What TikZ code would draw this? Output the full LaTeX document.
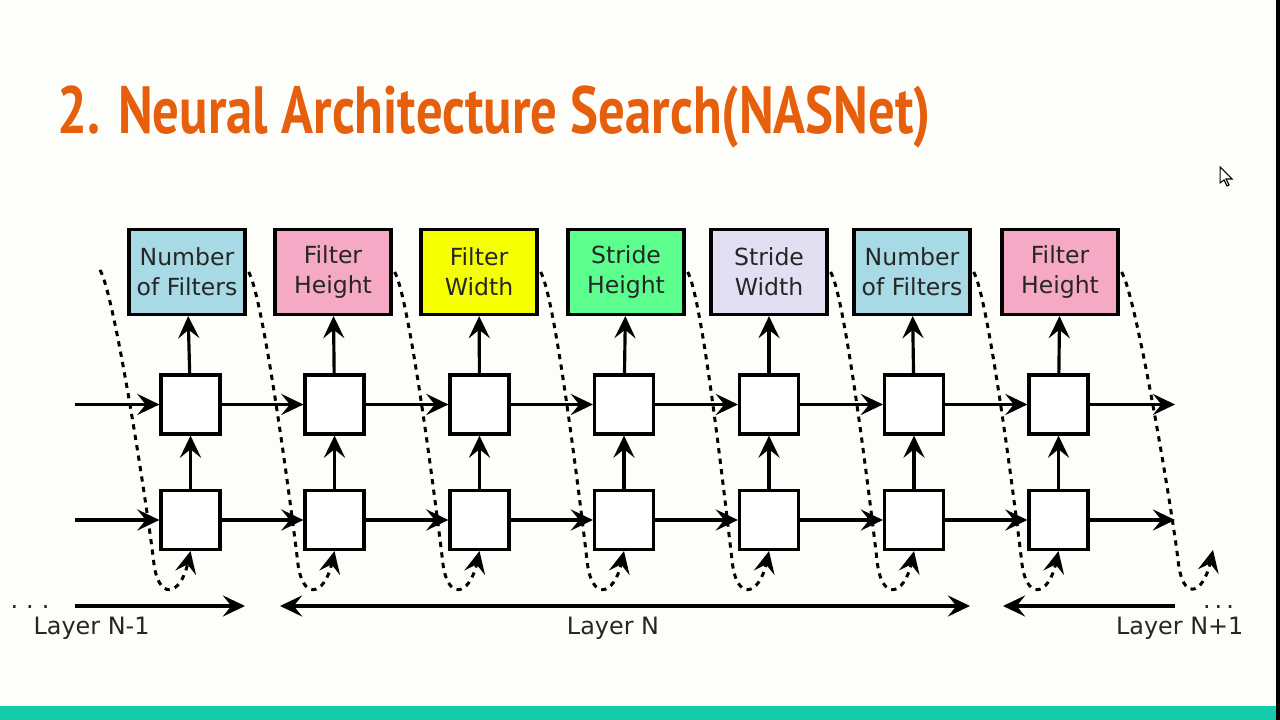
\documentclass[tikz,border=0pt]{standalone}
\usepackage{fontspec}
\setmainfont{DejaVu Sans}
\newfontfamily\titlefont{PT Sans}[FakeStretch=0.79]
\usetikzlibrary{arrows.meta}
\definecolor{pagebg}{HTML}{FDFDFA}
\definecolor{titleorange}{HTML}{E65F0C}
\definecolor{barteal}{HTML}{14CCAA}
\definecolor{boxblue}{HTML}{A7DAE4}
\definecolor{boxpink}{HTML}{F5A9C4}
\definecolor{boxyellow}{HTML}{F5FF00}
\definecolor{boxgreen}{HTML}{5CFF8E}
\definecolor{boxlilac}{HTML}{E3DFF3}

\begin{document}
\begin{tikzpicture}[>={Stealth[length=6.3pt,width=6pt,inset=2.4pt]},line width=0.9pt,
    cell/.style={draw,fill=white,minimum size=0.59cm,inner sep=0pt},
    param/.style={draw,minimum width=1.16cm,minimum height=0.85cm,inner sep=0pt,align=center,
      font=\fontsize{6.7}{8.5}\selectfont,text=black!85},
    flow/.style={->},
    feedback/.style={->,dash pattern=on 1.5pt off 1.5pt,line width=0.85pt},
    lbl/.style={inner sep=0pt,font=\fontsize{6.8}{8}\selectfont,text=black!85}]
      \useasboundingbox (0,0) rectangle (12.8,7.2);
      \fill[pagebg] (0,0) rectangle (12.8,7.2);
      \fill[barteal] (0,0) rectangle (12.8,0.14);
      \fill[black] (12.755,0) rectangle (12.8,7.2);
      \draw[line width=0.3pt,fill=white] (12.20,5.53) -- (12.20,5.37) -- (12.24,5.40) -- (12.27,5.34)
        -- (12.29,5.35) -- (12.26,5.41) -- (12.32,5.41) -- cycle;
      \node[anchor=base west,inner sep=0pt,text=titleorange,font=\titlefont\bfseries\fontsize{19}{22}\selectfont]
        (title) at (0.56,5.86) {2. Neural Architecture Search(NASNet)};
      % parameter boxes
      \node[param,fill=boxblue] (p1) at (1.87,4.48) {Number\\of Filters}; \node[param,fill=boxpink] (p2) at (3.33,4.48) {Filter\\Height};
      \node[param,fill=boxyellow] (p3) at (4.79,4.48) {Filter\\Width}; \node[param,fill=boxgreen] (p4) at (6.26,4.48) {Stride\\Height};
      \node[param,fill=boxlilac] (p5) at (7.69,4.48) {Stride\\Width}; \node[param,fill=boxblue] (p6) at (9.12,4.48) {Number\\of Filters};
      \node[param,fill=boxpink] (p7) at (10.60,4.48) {Filter\\Height};
      % two rows of cells
      \node[cell] (u1) at (1.905,3.155) {}; \node[cell] (l1) at (1.905,2.00) {};
      \node[cell] (u2) at (3.345,3.155) {}; \node[cell] (l2) at (3.345,2.00) {};
      \node[cell] (u3) at (4.795,3.155) {}; \node[cell] (l3) at (4.795,2.00) {};
      \node[cell] (u4) at (6.24,3.155) {}; \node[cell] (l4) at (6.24,2.00) {};
      \node[cell] (u5) at (7.69,3.155) {}; \node[cell] (l5) at (7.69,2.00) {};
      \node[cell] (u6) at (9.14,3.155) {}; \node[cell] (l6) at (9.14,2.00) {};
      \node[cell] (u7) at (10.585,3.155) {}; \node[cell] (l7) at (10.585,2.00) {};
      \coordinate (uin) at (0.75,3.155); \coordinate (uout) at (11.75,3.155);
      \coordinate (lin) at (0.75,2.00); \coordinate (lout) at (11.75,2.00);
      \coordinate (s0) at (1.00,4.50); \coordinate (e8) at (12.13,1.70);
      % row connectors
      \draw[flow] (uin) -- (u1); \draw[flow] (u1) -- (u2); \draw[flow] (u2) -- (u3); \draw[flow] (u3) -- (u4);
      \draw[flow] (u4) -- (u5); \draw[flow] (u5) -- (u6); \draw[flow] (u6) -- (u7); \draw[flow] (u7) -- (uout);
      \draw[flow] (lin) -- (l1); \draw[flow] (l1) -- (l2); \draw[flow] (l2) -- (l3); \draw[flow] (l3) -- (l4);
      \draw[flow] (l4) -- (l5); \draw[flow] (l5) -- (l6); \draw[flow] (l6) -- (l7); \draw[flow] (l7) -- (lout);
      % upward connectors
      \draw[flow] (l1) -- (u1); \draw[flow] (u1) -- (p1); \draw[flow] (l2) -- (u2); \draw[flow] (u2) -- (p2);
      \draw[flow] (l3) -- (u3); \draw[flow] (u3) -- (p3); \draw[flow] (l4) -- (u4); \draw[flow] (u4) -- (p4);
      \draw[flow] (l5) -- (u5); \draw[flow] (u5) -- (p5); \draw[flow] (l6) -- (u6); \draw[flow] (u6) -- (p6);
      \draw[flow] (l7) -- (u7); \draw[flow] (u7) -- (p7);
      % feedback from previous output
      \draw[feedback] (s0) .. controls +(0.15,-0.25) and +(-0.06,0.5) .. (1.535,1.60) .. controls +(0.04,-0.42) and +(-0.1,-0.45) .. (l1.south);
      \draw[feedback] ([xshift=0.02cm]p1.east) .. controls +(0.15,-0.25) and +(-0.06,0.5) .. (2.975,1.60) .. controls +(0.04,-0.42) and +(-0.1,-0.45) .. (l2.south);
      \draw[feedback] ([xshift=0.02cm]p2.east) .. controls +(0.15,-0.25) and +(-0.06,0.5) .. (4.425,1.60) .. controls +(0.04,-0.42) and +(-0.1,-0.45) .. (l3.south);
      \draw[feedback] ([xshift=0.02cm]p3.east) .. controls +(0.15,-0.25) and +(-0.06,0.5) .. (5.87,1.60) .. controls +(0.04,-0.42) and +(-0.1,-0.45) .. (l4.south);
      \draw[feedback] ([xshift=0.02cm]p4.east) .. controls +(0.15,-0.25) and +(-0.06,0.5) .. (7.32,1.60) .. controls +(0.04,-0.42) and +(-0.1,-0.45) .. (l5.south);
      \draw[feedback] ([xshift=0.02cm]p5.east) .. controls +(0.15,-0.25) and +(-0.06,0.5) .. (8.77,1.60) .. controls +(0.04,-0.42) and +(-0.1,-0.45) .. (l6.south);
      \draw[feedback] ([xshift=0.02cm]p6.east) .. controls +(0.15,-0.25) and +(-0.06,0.5) .. (10.215,1.60) .. controls +(0.04,-0.42) and +(-0.1,-0.45) .. (l7.south);
      \draw[feedback] ([xshift=0.02cm]p7.east) .. controls +(0.15,-0.25) and +(-0.06,0.5) .. (11.78,1.60) .. controls +(0.04,-0.42) and +(-0.1,-0.45) .. (e8);
      % layer spans
      \coordinate (la) at (0.75,1.14); \coordinate (lb) at (2.45,1.14);
      \coordinate (na) at (2.80,1.14); \coordinate (nb) at (9.70,1.14);
      \coordinate (ra) at (11.75,1.14); \coordinate (rb) at (10.03,1.14);
      \draw[->] (la) -- (lb); \draw[<->] (na) -- (nb); \draw[->] (ra) -- (rb);
      \node[lbl,anchor=base] (dl) at (0.30,1.11) {.\,\,.\,\,.}; \node[lbl,anchor=base] (dr) at (12.185,1.11) {.\,.\,.};
      \node[lbl,anchor=base west] (prev) at (0.32,0.85) {Layer N-1};
      \node[lbl,anchor=base] (cur) at (6.13,0.85) {Layer N};
      \node[lbl,anchor=base east] (next) at (12.45,0.85) {Layer N+1};
    \end{tikzpicture}
\end{document}
